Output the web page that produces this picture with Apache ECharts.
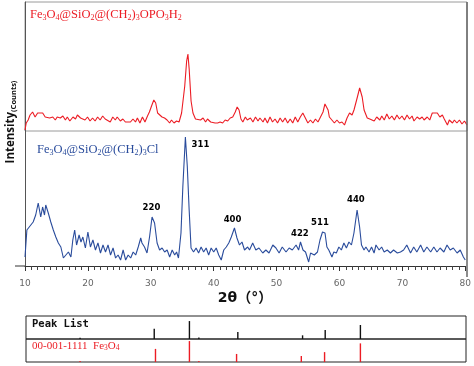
<!DOCTYPE html>
<html>
<head>
<meta charset="utf-8">
<script src="https://cdn.jsdelivr.net/npm/echarts@6/dist/echarts.min.js"></script>
<style>
html,body{margin:0;padding:0;background:#fff;}
#chart{width:474px;height:366px;}
</style>
</head>
<body>
<div id="chart"></div>
<script>
// ---- data (2θ in degrees, intensity in arbitrary units) ----
const blueTheta = [10.0,10.3,10.5,11.3,11.7,12.1,12.5,12.8,13.1,13.3,13.7,14.1,14.5,14.9,15.3,15.7,16.1,16.5,16.9,17.3,17.6,17.9,18.2,18.6,18.9,19.2,19.6,20.0,20.4,20.8,21.2,21.6,22.0,22.4,22.8,23.2,23.6,24.0,24.4,24.8,25.2,25.6,26.0,26.4,26.8,27.2,27.6,28.0,28.4,28.6,29.0,29.4,29.8,30.2,30.6,31.0,31.4,31.8,32.2,32.6,33.0,33.4,33.8,34.1,34.4,34.8,35.1,35.5,35.8,36.1,36.4,36.8,37.2,37.6,38.0,38.4,38.8,39.2,39.6,40.0,40.4,40.8,41.2,41.6,42.0,42.4,42.8,43.3,43.7,44.1,44.5,44.9,45.4,45.7,46.2,46.7,47.2,47.8,48.3,48.8,49.4,49.9,50.4,50.9,51.5,52.0,52.5,53.1,53.5,53.8,54.2,54.6,55.1,55.4,56.0,56.5,56.9,57.3,57.7,58.0,58.3,58.8,59.1,59.5,59.9,60.3,60.7,61.1,61.5,61.9,62.3,62.8,63.2,63.5,63.9,64.2,64.7,65.1,65.5,65.8,66.3,66.7,67.1,67.6,68.1,68.6,69.2,69.7,70.2,70.7,71.3,71.8,72.3,72.9,73.4,73.9,74.5,75.0,75.5,76.0,76.6,77.1,77.6,78.1,78.7,79.2,79.7,80.0];
const blueCounts = [9,36,34,44,51,63,49,59,51,61,53,44,36,29,23,19,8,11,14,9,26,36,21,31,24,29,18,34,19,26,16,23,13,21,14,21,11,18,8,11,6,16,6,11,8,14,11,19,28,23,19,13,29,49,43,23,16,18,14,16,9,16,11,14,8,33,80,129,100,56,18,14,18,13,19,14,18,11,18,14,18,11,6,16,19,23,29,38,28,21,24,16,19,16,23,16,18,13,16,13,21,18,13,19,14,18,16,21,16,24,16,14,4,13,11,14,26,34,33,19,16,9,14,13,19,16,23,18,24,21,33,56,39,21,16,19,14,19,13,21,16,19,14,16,13,16,13,14,16,21,13,19,14,21,14,19,14,19,14,18,14,21,16,18,13,16,9,6];

const redTheta = [10.0,10.2,10.5,10.8,11.2,11.6,12.0,12.4,12.8,13.2,13.5,13.9,14.4,14.8,15.1,15.6,16.0,16.4,16.7,17.1,17.6,18.0,18.3,18.8,19.1,19.5,19.9,20.3,20.7,21.1,21.5,21.9,22.3,22.7,23.0,23.5,23.9,24.3,24.6,25.1,25.5,25.9,26.2,26.7,27.1,27.5,27.8,28.2,28.6,29.0,29.4,29.7,30.1,30.4,30.7,31.0,31.3,31.7,32.1,32.5,32.9,33.2,33.6,34.0,34.4,34.8,35.1,35.3,35.6,35.8,36.0,36.3,36.6,37.0,37.3,37.8,38.2,38.6,38.9,39.4,39.7,40.1,40.5,40.9,41.3,41.7,42.1,42.5,42.9,43.3,43.6,43.9,44.2,44.5,44.9,45.2,45.7,46.1,46.5,46.9,47.2,47.7,48.0,48.4,48.8,49.2,49.6,50.0,50.4,50.8,51.2,51.6,52.0,52.4,52.8,53.2,53.6,54.0,54.4,54.8,55.2,55.6,56.0,56.4,56.8,57.2,57.5,58.0,58.2,58.6,59.0,59.4,59.8,60.2,60.6,61.0,61.4,61.8,62.1,62.6,63.0,63.4,63.7,64.2,64.6,64.9,65.3,65.7,66.2,66.5,66.9,67.3,67.7,68.1,68.5,68.9,69.3,69.7,70.1,70.5,70.9,71.3,71.6,72.1,72.5,72.9,73.2,73.7,74.1,74.5,74.8,75.3,75.7,76.1,76.4,76.9,77.2,77.7,78.0,78.4,78.8,79.2,79.6,80.0];
const redCounts = [1,8,11,16,19,14,18,18,18,14,16,13,14,11,14,13,15,11,14,10,14,12,16,13,14,11,14,10,13,10,14,11,15,12,14,9,14,11,14,10,12,9,11,9,12,9,13,8,14,9,15,19,26,31,28,18,16,14,13,11,8,11,8,10,9,18,19,45,70,77,62,30,18,12,14,11,13,9,12,9,8,8,8,9,8,11,10,13,14,19,24,21,12,9,14,11,13,9,14,10,13,9,13,8,14,9,12,8,13,9,13,8,12,8,14,9,14,18,13,8,11,8,12,9,14,19,27,21,14,11,8,11,8,9,6,13,18,16,21,33,43,34,21,13,12,14,10,14,11,15,11,17,12,15,11,16,12,15,11,16,12,15,10,14,12,14,11,14,11,18,16,18,14,16,12,6,11,8,11,8,11,7,10,6];

const hklLabels = ['220','311','400','422','511','440'];
const hklTheta  = [30.1, 37.9, 43.0, 53.7, 56.9, 62.6];
const hklHeight = [58, 121, 46, 32, 43, 66];

const peakListTheta  = [18.6, 30.4, 36.0, 37.5, 43.7, 54.0, 57.6, 63.2];
const peakListHeight = [5, 45, 78, 6, 30, 16, 39, 61];
const refTheta  = [18.6, 30.6, 36.0, 37.5, 43.5, 53.8, 57.5, 63.2];
const refHeight = [4, 57, 91, 4, 35, 26, 43, 81];

const xTickMin = 10, xTickMax = 80, xTickStep = 10;

// ---- build ----
const pairs = (xs, ys) => xs.map((x, i) => [x, ys[i]]);
const RED = '#ec1c24', BLUE = '#2a4c9c';

const chart = echarts.init(document.getElementById('chart'), null, {renderer: 'canvas'});

const hiddenX = (gi) => ({gridIndex: gi, type: 'value', min: xTickMin, max: xTickMax, show: false});
const serif = '"Liberation Serif","DejaVu Serif",serif';
const sans = '"DejaVu Sans","Liberation Sans",sans-serif';

const formula = (parts, color) => ({
  text: parts,
  fill: color,
  rich: {
    n: {fontFamily: serif, fontSize: 12.5, lineHeight: 14, fill: color},
    s: {fontFamily: serif, fontSize: 8, lineHeight: 8, verticalAlign: 'bottom', fill: color}
  }
});

const option = {
  animation: false,
  backgroundColor: '#fff',
  grid: [
    {left: 25, right: 7, top: 2, height: 129, show: true, borderColor: '#9a9a9a', borderWidth: 1},
    {left: 25, right: 7, top: 131, height: 135},
    {left: 26, right: 8, top: 316, height: 23, show: true, borderColor: '#222', borderWidth: 1},
    {left: 26, right: 8, top: 339, height: 23, show: true, borderColor: '#222', borderWidth: 1}
  ],
  xAxis: [
    hiddenX(0),
    {
      gridIndex: 1, type: 'value', min: xTickMin, max: xTickMax, interval: xTickStep,
      axisLine: {show: true, lineStyle: {color: '#333', width: 1}},
      axisTick: {show: true, length: 5, lineStyle: {color: '#333'}},
      minorTick: {show: true, splitNumber: 10, length: 4, lineStyle: {color: '#444'}},
      axisLabel: {fontSize: 9, color: '#666', margin: 13, fontFamily: sans},
      splitLine: {show: false}, minorSplitLine: {show: false}
    },
    hiddenX(2),
    hiddenX(3)
  ],
  yAxis: [
    {gridIndex: 0, type: 'value', min: 0, max: 129, axisLine: {show: true, onZero: false, lineStyle: {color: '#555'}}, axisTick: {show: false}, axisLabel: {show: false}, splitLine: {show: false}},
    {gridIndex: 1, type: 'value', min: 0, max: 135, axisLine: {show: true, onZero: false, lineStyle: {color: '#555'}}, axisTick: {show: false}, axisLabel: {show: false}, splitLine: {show: false}},
    {gridIndex: 2, type: 'value', min: 0, max: 100, show: false},
    {gridIndex: 3, type: 'value', min: 0, max: 100, show: false}
  ],
  series: [
    {type: 'line', xAxisIndex: 0, yAxisIndex: 0, data: pairs(redTheta, redCounts), showSymbol: false, lineStyle: {color: RED, width: 1.1}, silent: true},
    {type: 'line', xAxisIndex: 1, yAxisIndex: 1, data: pairs(blueTheta, blueCounts), showSymbol: false, lineStyle: {color: BLUE, width: 1.1}, silent: true},
    {
      type: 'scatter', xAxisIndex: 1, yAxisIndex: 1, symbolSize: 0, silent: true,
      itemStyle: {opacity: 1},
      data: hklTheta.map((t, i) => ({value: [t, hklHeight[i]], name: hklLabels[i]})),
      label: {show: true, position: 'inside', formatter: p => p.name, color: '#000', opacity: 1, textBorderWidth: 0, fontWeight: 'bold', fontSize: 8.5, fontFamily: sans}
    },
    {type: 'bar', xAxisIndex: 2, yAxisIndex: 2, data: pairs(peakListTheta, peakListHeight), barWidth: 1.4, itemStyle: {color: '#111'}, silent: true},
    {type: 'bar', xAxisIndex: 3, yAxisIndex: 3, data: pairs(refTheta, refHeight), barWidth: 1.4, itemStyle: {color: RED}, silent: true}
  ],
  graphic: [
    {type: 'line', shape: {x1: 467, y1: 2, x2: 467, y2: 277}, style: {stroke: '#666', lineWidth: 1.5}, z: 10},
    {type: 'line', shape: {x1: 15, y1: 266, x2: 25, y2: 266}, style: {stroke: '#333', lineWidth: 1}},
    {type: 'text', x: 30, y: 15, style: Object.assign(formula('{n|Fe}{s|3}{n|O}{s|4}{n|@SiO}{s|2}{n|@(CH}{s|2}{n|)}{s|3}{n|OPO}{s|3}{n|H}{s|2}', RED), {verticalAlign: 'middle'})},
    {type: 'text', x: 37, y: 150, style: Object.assign(formula('{n|Fe}{s|3}{n|O}{s|4}{n|@SiO}{s|2}{n|@(CH}{s|2}{n|)}{s|3}{n|Cl}', BLUE), {verticalAlign: 'middle'})},
    {
      type: 'text', x: 11, y: 122, rotation: Math.PI / 2,
      style: {
        text: '{a|Intensity}{b|(Counts)}', align: 'center', verticalAlign: 'middle',
        rich: {
          a: {fontFamily: '"Open Sans",' + sans, fontWeight: 'bold', fontSize: 11.5, lineHeight: 14, fill: '#111'},
          b: {fontFamily: '"Open Sans",' + sans, fontWeight: 'bold', fontSize: 7.5, lineHeight: 10, verticalAlign: 'bottom', fill: '#111'}
        }
      }
    },
    {type: 'text', x: 245, y: 298, style: {text: '2θ（°）', align: 'center', verticalAlign: 'middle', fontSize: 14, fontWeight: 'bold', fill: '#111', fontFamily: '"DejaVu Sans","Noto Sans CJK SC",sans-serif'}},
    {type: 'text', x: 32, y: 324, style: {text: 'Peak List', verticalAlign: 'middle', fontSize: 10.5, fontWeight: 'bold', fill: '#111', fontFamily: '"DejaVu Sans Mono","Liberation Mono",monospace'}},
    {type: 'text', x: 32, y: 346, style: {
      text: '{n|00-001-1111  Fe}{s|3}{n|O}{s|4}', verticalAlign: 'middle', fill: RED,
      rich: {
        n: {fontFamily: serif, fontSize: 11, lineHeight: 12, fill: RED},
        s: {fontFamily: serif, fontSize: 7.5, lineHeight: 8, verticalAlign: 'bottom', fill: RED}
      }
    }}
  ]
};
chart.setOption(option);
</script>
</body>
</html>
